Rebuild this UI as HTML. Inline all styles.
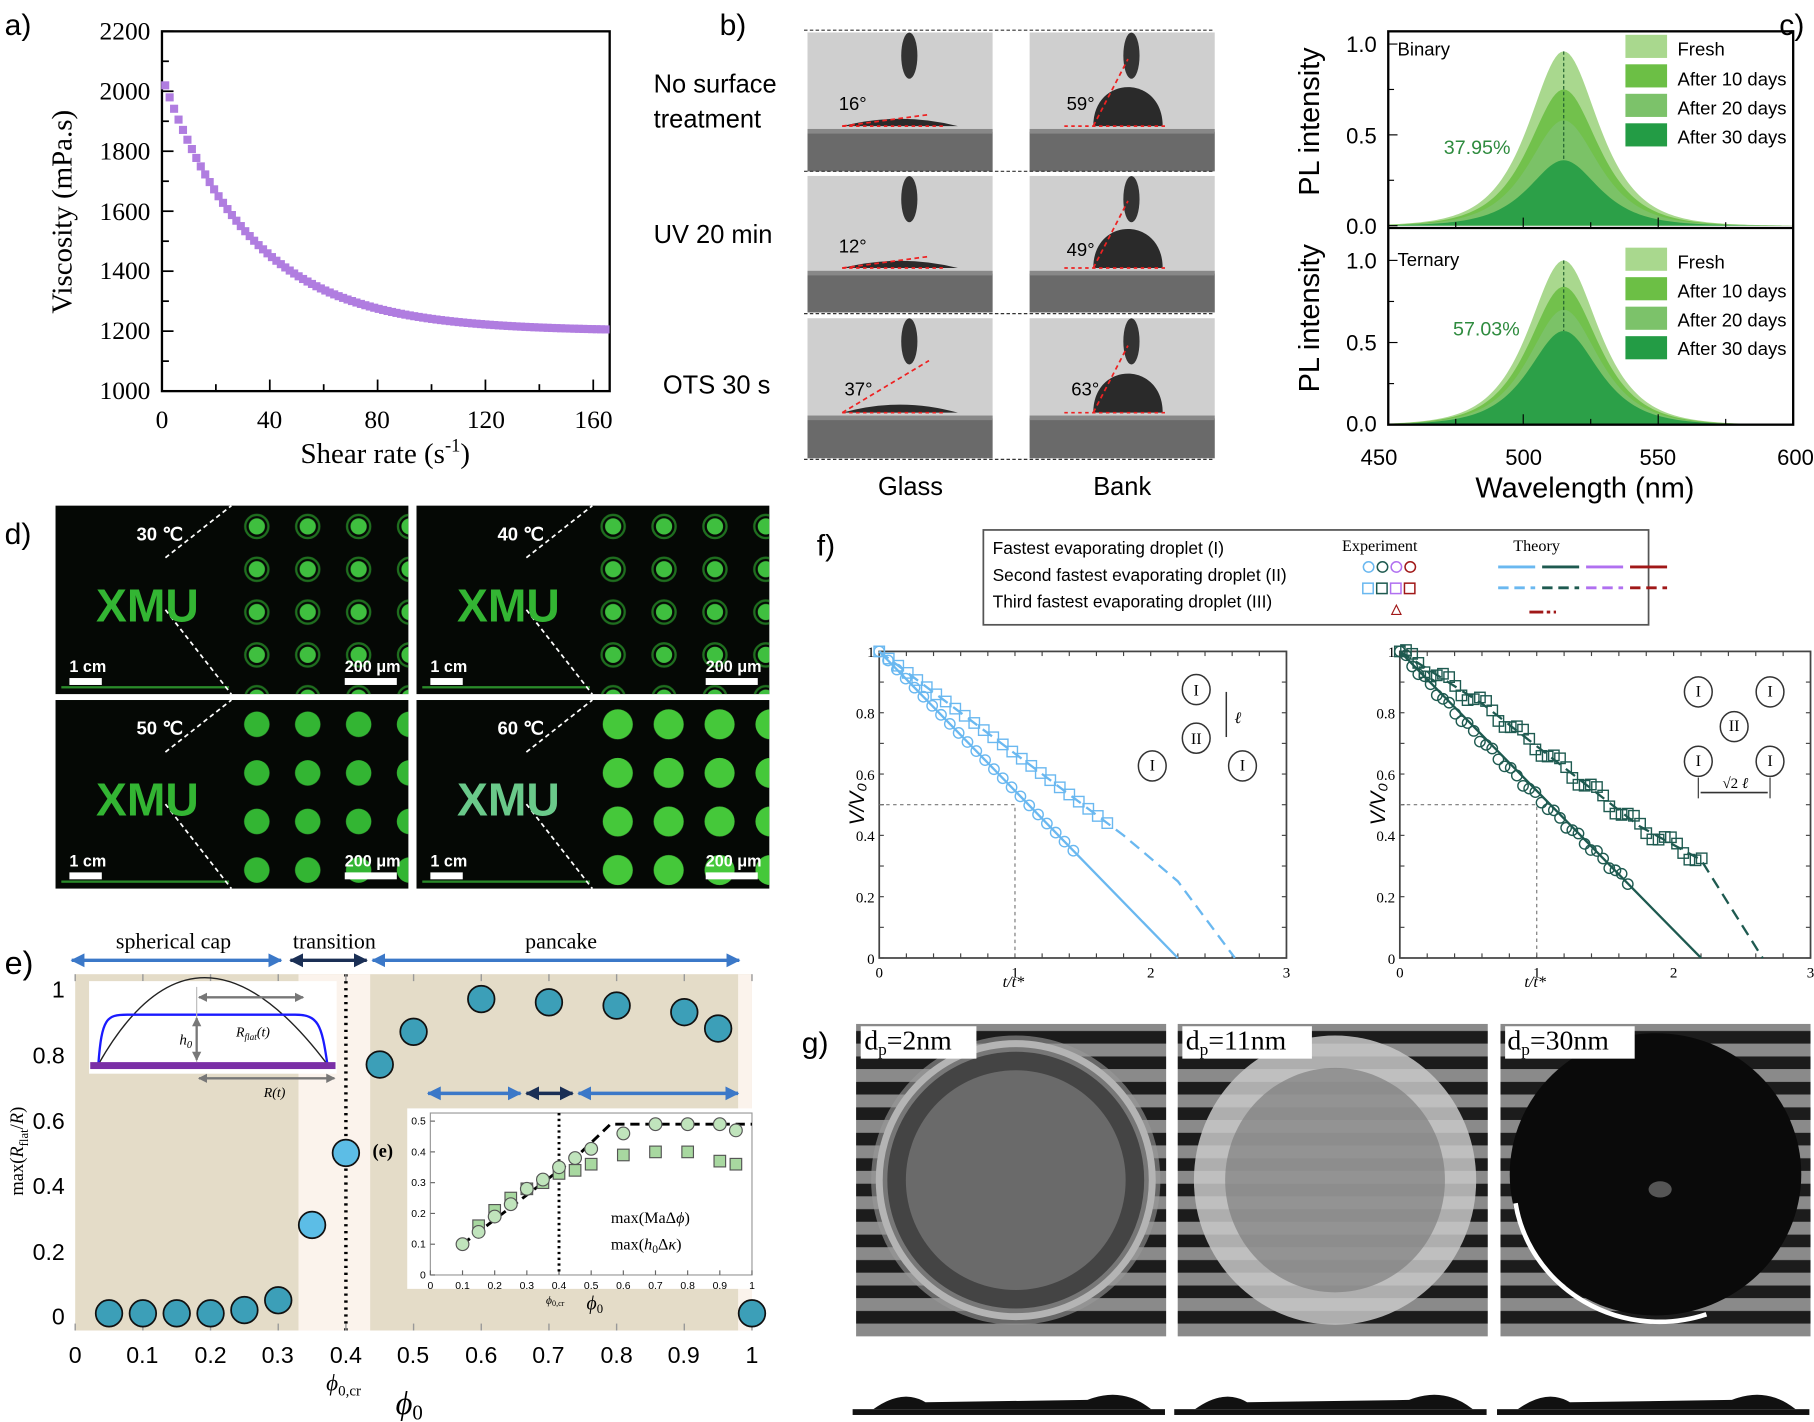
<!DOCTYPE html>
<html><head><meta charset="utf-8">
<style>
html,body{margin:0;padding:0;background:#fff;}
svg{display:block;}
.s{font-family:"Liberation Sans",sans-serif;}
.r{font-family:"Liberation Serif",serif;}
</style></head>
<body>
<svg id="S" width="1814" height="1422" viewBox="0 0 1568 1229" xmlns="http://www.w3.org/2000/svg">
<defs>
<pattern id="dotsA" x="200" y="437" width="44" height="37" patternUnits="userSpaceOnUse"><circle cx="22" cy="18" r="7" fill="#3fbf3f"/><circle cx="22" cy="18" r="10" fill="none" stroke="#1f6f1f" stroke-width="2"/></pattern>
<pattern id="dotsB" x="200" y="605" width="44" height="42" patternUnits="userSpaceOnUse"><circle cx="22" cy="21" r="11" fill="#33b533"/></pattern>
<pattern id="dotsC" x="512" y="605" width="44" height="42" patternUnits="userSpaceOnUse"><circle cx="22" cy="21" r="13" fill="#45c83a"/></pattern>
<pattern id="stripes" width="10" height="22" patternUnits="userSpaceOnUse"><rect width="10" height="11" fill="#8a8a8a"/><rect y="11" width="10" height="11" fill="#1c1c1c"/></pattern>
<marker id="ah" markerUnits="userSpaceOnUse" markerWidth="12" markerHeight="12" refX="11" refY="6" orient="auto-start-reverse"><path d="M0,0 L12,6 L0,12z" fill="#3b78c8"/></marker>
<marker id="ahd" markerUnits="userSpaceOnUse" markerWidth="12" markerHeight="12" refX="11" refY="6" orient="auto-start-reverse"><path d="M0,0 L12,6 L0,12z" fill="#1a2f55"/></marker>
<marker id="ak" markerUnits="userSpaceOnUse" markerWidth="8" markerHeight="8" refX="7" refY="4" orient="auto-start-reverse"><path d="M0,0 L8,4 L0,8z" fill="#777"/></marker>
</defs>

<!-- ===== a ===== -->
<text x="4" y="30" class="s" font-size="26">a)</text>
<rect x="140" y="27" width="387" height="311" fill="none" stroke="#000" stroke-width="2"/>
<g id="aTicks" stroke="#000" stroke-width="1.5"></g>
<g class="r" font-size="22" text-anchor="end">
<text x="130" y="345">1000</text><text x="130" y="293">1200</text><text x="130" y="241">1400</text><text x="130" y="190">1600</text><text x="130" y="138">1800</text><text x="130" y="86">2000</text><text x="130" y="34">2200</text>
</g>
<g class="r" font-size="22" text-anchor="middle">
<text x="140" y="370">0</text><text x="233" y="370">40</text><text x="326" y="370">80</text><text x="420" y="370">120</text><text x="513" y="370">160</text>
</g>
<text x="333" y="400" class="r" font-size="25" text-anchor="middle">Shear rate (s<tspan dy="-10" font-size="16">-1</tspan><tspan dy="10">)</tspan></text>
<text transform="translate(62,183) rotate(-90)" class="r" font-size="25" text-anchor="middle">Viscosity (mPa.s)</text>
<g id="aData" fill="#b07de0"></g>

<!-- ===== b ===== -->
<text x="622" y="30" class="s" font-size="26">b)</text>
<g class="s" font-size="22">
<text x="565" y="80">No surface</text><text x="565" y="110">treatment</text>
<text x="565" y="210">UV 20 min</text><text x="573" y="340">OTS  30 s</text>
<text x="787" y="428" text-anchor="middle">Glass</text><text x="970" y="428" text-anchor="middle">Bank</text>
</g>
<g id="bImgs"></g>

<!-- ===== c ===== -->
<text x="1538" y="30" class="s" font-size="26">c)</text>
<g id="cPlot"></g>
<g class="s" font-size="16">
<text x="1208" y="48">Binary</text><text x="1208" y="230">Ternary</text>
<text x="1248" y="133" fill="#2e8b3e" font-size="17">37.95%</text><text x="1256" y="290" fill="#2e8b3e" font-size="17">57.03%</text>
<text x="1450" y="48">Fresh</text><text x="1450" y="74">After 10 days</text><text x="1450" y="99">After 20 days</text><text x="1450" y="124">After 30 days</text>
<text x="1450" y="232">Fresh</text><text x="1450" y="257">After 10 days</text><text x="1450" y="282">After 20 days</text><text x="1450" y="307">After 30 days</text>
</g>
<g class="s" font-size="19" text-anchor="end">
<text x="1190" y="45">1.0</text><text x="1190" y="124">0.5</text><text x="1190" y="202">0.0</text>
<text x="1190" y="232">1.0</text><text x="1190" y="303">0.5</text><text x="1190" y="373">0.0</text>
</g>
<g class="s" font-size="19" text-anchor="middle">
<text x="1192" y="402">450</text><text x="1317" y="402">500</text><text x="1433" y="402">550</text><text x="1552" y="402">600</text>
</g>
<text x="1370" y="430" class="s" font-size="25" text-anchor="middle">Wavelength (nm)</text>
<text transform="translate(1140,105) rotate(-90)" class="s" font-size="25" text-anchor="middle">PL intensity</text>
<text transform="translate(1140,275) rotate(-90)" class="s" font-size="25" text-anchor="middle">PL intensity</text>

<!-- ===== d ===== -->
<text x="4" y="470" class="s" font-size="26">d)</text>
<g id="dImgs"></g>

<!-- ===== e ===== -->
<text x="4" y="842" class="s" font-size="28">e)</text>
<rect x="65" y="842" width="585" height="308" fill="#e4dcc8"/>
<rect x="258" y="842" width="62" height="308" fill="#fbf3ec"/>
<rect x="638" y="842" width="12" height="308" fill="#fbf3ec"/>
<line x1="299" y1="842" x2="299" y2="1150" stroke="#000" stroke-width="3" stroke-dasharray="2,4"/>
<g id="eTicks" stroke="#999" stroke-width="1.2"></g>
<g class="s" font-size="20" text-anchor="end">
<text x="56" y="862">1</text><text x="56" y="919">0.8</text><text x="56" y="976">0.6</text><text x="56" y="1032">0.4</text><text x="56" y="1089">0.2</text><text x="56" y="1145">0</text>
</g>
<g class="s" font-size="20" text-anchor="middle" id="eX">
<text x="65" y="1178">0</text><text x="123" y="1178">0.1</text><text x="182" y="1178">0.2</text><text x="240" y="1178">0.3</text><text x="299" y="1178">0.4</text><text x="357" y="1178">0.5</text><text x="416" y="1178">0.6</text><text x="474" y="1178">0.7</text><text x="533" y="1178">0.8</text><text x="591" y="1178">0.9</text><text x="650" y="1178">1</text>
</g>
<text x="297" y="1202" class="r" font-size="20" font-style="italic" text-anchor="middle">ϕ<tspan font-size="13" dy="4" font-style="normal">0,cr</tspan></text>
<text x="342" y="1222" class="r" font-size="28" font-style="italic">ϕ<tspan font-size="18" dy="5" font-style="normal">0</tspan></text>
<text transform="translate(20,995) rotate(-90)" class="r" font-size="16" text-anchor="middle">max(<tspan font-style="italic">R</tspan><tspan font-size="11" dy="4">flat</tspan><tspan dy="-4">/</tspan><tspan font-style="italic">R</tspan>)</text>
<g class="r" font-size="19" text-anchor="middle">
<text x="150" y="820">spherical cap</text><text x="289" y="820">transition</text><text x="485" y="820">pancake</text>
</g>
<line x1="62" y1="830" x2="243" y2="830" stroke="#3b78c8" stroke-width="3" marker-start="url(#ah)" marker-end="url(#ah)"/>
<line x1="251" y1="830" x2="317" y2="830" stroke="#1a2f55" stroke-width="3" marker-start="url(#ahd)" marker-end="url(#ahd)"/>
<line x1="322" y1="830" x2="639" y2="830" stroke="#3b78c8" stroke-width="3" marker-start="url(#ah)" marker-end="url(#ah)"/>
<!-- inset drawing -->
<rect x="77" y="848" width="214" height="80" fill="#fff"/>
<path d="M85,920 Q170,770 283,920" fill="none" stroke="#222" stroke-width="1.2"/>
<path d="M85,920 C88,880 92,877 110,877 L255,877 C275,877 278,885 283,920" fill="none" stroke="#1a1aff" stroke-width="2"/>
<rect x="78" y="918" width="212" height="6" fill="#7a2ea6"/>
<line x1="170" y1="853" x2="170" y2="918" stroke="#bbb"/>
<line x1="172" y1="862" x2="262" y2="862" stroke="#777" stroke-width="2" marker-start="url(#ak)" marker-end="url(#ak)"/>
<line x1="170" y1="880" x2="170" y2="916" stroke="#777" stroke-width="2" marker-start="url(#ak)" marker-end="url(#ak)"/>
<line x1="172" y1="932" x2="289" y2="932" stroke="#777" stroke-width="2" marker-start="url(#ak)" marker-end="url(#ak)"/>
<text x="166" y="903" class="r" font-size="13" font-style="italic" text-anchor="end">h<tspan font-size="9" dy="3">0</tspan></text>
<text x="204" y="896" class="r" font-size="12" font-style="italic">R<tspan font-size="8" dy="3">flat</tspan><tspan dy="-3">(t)</tspan></text>
<text x="228" y="948" class="r" font-size="12" font-style="italic">R(t)</text>
<!-- inset plot -->
<rect x="352" y="958" width="300" height="156" fill="#fff"/>
<rect x="372" y="962" width="278" height="140" fill="none" stroke="#999" stroke-width="1"/>
<line x1="370" y1="945" x2="450" y2="945" stroke="#3b78c8" stroke-width="3" marker-start="url(#ah)" marker-end="url(#ah)"/>
<line x1="455" y1="945" x2="495" y2="945" stroke="#1a2f55" stroke-width="3" marker-start="url(#ahd)" marker-end="url(#ahd)"/>
<line x1="500" y1="945" x2="638" y2="945" stroke="#3b78c8" stroke-width="3" marker-start="url(#ah)" marker-end="url(#ah)"/>
<text x="322" y="1000" class="r" font-size="16" font-weight="bold">(e)</text>
<g id="inset"></g>
<g class="r" font-size="14">
<text x="528" y="1057">max(MaΔ<tspan font-style="italic">ϕ</tspan>)</text>
<text x="528" y="1080">max(<tspan font-style="italic">h</tspan><tspan font-size="10" dy="3">0</tspan><tspan dy="-3">Δ</tspan><tspan font-style="italic">κ</tspan>)</text>
</g>
<text x="472" y="1127" class="r" font-size="10" font-style="italic">ϕ<tspan font-size="7" dy="2" font-style="normal">0,cr</tspan></text>
<text x="507" y="1132" class="r" font-size="17" font-style="italic">ϕ<tspan font-size="11" dy="3" font-style="normal">0</tspan></text>
<g id="eDots"></g>

<!-- ===== f ===== -->
<text x="706" y="480" class="s" font-size="26">f)</text>
<rect x="850" y="458" width="575" height="82" fill="#fff" stroke="#555" stroke-width="1.5"/>
<g class="s" font-size="15">
<text x="858" y="479">Fastest evaporating droplet (I)</text>
<text x="858" y="502">Second fastest evaporating droplet (II)</text>
<text x="858" y="525">Third fastest evaporating droplet (III)</text>
</g>
<g class="r" font-size="14"><text x="1160" y="476">Experiment</text><text x="1308" y="476">Theory</text></g>
<g id="fLeg"></g>
<g id="fPlots"></g>
<g class="r" font-size="14" font-style="italic" text-anchor="middle"><text x="876" y="853">t/t*</text><text x="1327" y="853">t/t*</text></g>
<text transform="translate(747,695) rotate(-90)" class="s" font-size="18" font-style="italic" text-anchor="middle">V/V₀</text>
<text transform="translate(1197,695) rotate(-90)" class="s" font-size="18" font-style="italic" text-anchor="middle">V/V₀</text>
<g class="r" font-size="14" text-anchor="middle">
<text x="1034" y="601">I</text><text x="1034" y="643">II</text><text x="996" y="666">I</text><text x="1074" y="666">I</text>
<text x="1468" y="602">I</text><text x="1530" y="602">I</text><text x="1499" y="632">II</text><text x="1468" y="662">I</text><text x="1530" y="662">I</text>
<text x="1070" y="625" font-style="italic">ℓ</text><text x="1500" y="681" font-size="13">√2 <tspan font-style="italic">ℓ</tspan></text>
</g>

<!-- ===== g ===== -->
<text x="693" y="910" class="s" font-size="26">g)</text>
<g id="gImgs"></g>
<g class="r" font-size="24">
<text x="747" y="907">d<tspan font-size="15" dy="5">p</tspan><tspan dy="-5">=2nm</tspan></text>
<text x="1025" y="907">d<tspan font-size="15" dy="5">p</tspan><tspan dy="-5">=11nm</tspan></text>
<text x="1303" y="907">d<tspan font-size="15" dy="5">p</tspan><tspan dy="-5">=30nm</tspan></text>
</g>
<g id="dText" class="s" font-weight="bold"></g>
</svg>
<script>
const NS="http://www.w3.org/2000/svg";
function el(p,t,a){const e=document.createElementNS(NS,t);for(const k in a)e.setAttribute(k,a[k]);p.appendChild(e);return e;}
const $=id=>document.getElementById(id);
// a
{const g=$('aTicks');for(let v=1000;v<=2200;v+=100){const y=338-(v-1000)*0.2592;el(g,'line',{x1:140,y1:y,x2:v%200?146:150,y2:y});}
for(let x=0;x<=166;x+=20){const px=140+x*2.33;el(g,'line',{x1:px,y1:338,x2:px,y2:x%40?332:328});}
const d=$('aData');for(let x=1.2;x<=166;x+=1.65){const v=1200+850*Math.exp(-x/33);const px=140+x*2.33,py=338-(v-1000)*0.2592;el(d,'rect',{x:px-3.5,y:py-3.5,width:7,height:7});}}
// b
{const g=$('bImgs');[[26,148],[150,270],[273,396]].forEach((r,i)=>{[[698,858],[890,1050]].forEach((c,j)=>{
const w=c[1]-c[0],h=r[1]-r[0];el(g,'rect',{x:c[0],y:r[0]+2,width:w,height:h-2,fill:'#cfcfcf'});
el(g,'rect',{x:c[0],y:r[0]+h*0.72,width:w,height:h*0.28,fill:'#6a6a6a'});
el(g,'rect',{x:c[0],y:r[0]+h*0.7,width:w,height:4,fill:'#888'});
el(g,'ellipse',{cx:c[0]+w*0.55,cy:r[0]+22,rx:7,ry:20,fill:'#333'});
const by=r[0]+h*0.68;
if(j==0){const fl=[[0.18,0.35],[0.1,0.35],[0.35,0.38]][i];el(g,'path',{d:`M${c[0]+30},${by} Q${c[0]+80},${by-h*fl[1]*0.3} ${c[0]+130},${by} Z`,fill:'#2a2a2a'});}
else{el(g,'path',{d:`M${c[0]+55},${by} C${c[0]+55},${by-45} ${c[0]+115},${by-45} ${c[0]+115},${by} Z`,fill:'#2a2a2a'});}
el(g,'line',{x1:c[0]+30,y1:by,x2:c[0]+120,y2:by,stroke:'#e22',"stroke-dasharray":'3,3','stroke-width':1.5});
el(g,'line',{x1:c[0]+(j?55:30),y1:by,x2:c[0]+(j?85:105),y2:by-(j?58:(i==2?45:10)),stroke:'#e22',"stroke-dasharray":'4,3','stroke-width':1.5});
});
});
[26,148,271,397].forEach(y=>el(g,'line',{x1:695,y1:y,x2:1050,y2:y,stroke:'#333','stroke-dasharray':'3,2'}));
const lab=[['16°',725,95],['59°',922,95],['12°',725,218],['49°',922,221],['37°',730,342],['63°',926,342]];
lab.forEach(l=>{const t=el(g,'text',{x:l[1],y:l[2],'font-size':16,'font-family':'Liberation Sans'});t.textContent=l[0];});}
// c
{const g=$('cPlot');const X=w=>1200+(w-450)*350/150;
const cols=['#a9d88e','#6cbf45','#7cc26a','#239c45'];
[[195,157,[0.96,0.75,0.58,0.36]],[367,142,[1.0,0.84,0.7,0.57]]].forEach(p=>{
p[2].forEach((A,i)=>{let d=`M${X(450)},${p[0]}`;for(let w=450;w<=600;w+=1){d+=` L${X(w)},${p[0]-p[1]*A/Math.cosh((w-515)/11.5)}`;}d+=` L${X(600)},${p[0]}Z`;el(g,'path',{d,fill:cols[i],opacity:i==0?1:0.9});});
el(g,'line',{x1:X(515),y1:p[0]-p[1]*p[2][0],x2:X(515),y2:p[0]-p[1]*p[2][3],stroke:'#1f5f2f','stroke-dasharray':'3,2'});
});
el(g,'rect',{x:1200,y:27,width:350,height:340,fill:'none',stroke:'#000','stroke-width':2});
el(g,'line',{x1:1200,y1:197,x2:1550,y2:197,stroke:'#000','stroke-width':2});
[[38,195],[225,367]].forEach(t=>{for(let k=0;k<=4;k++){const y=t[1]-(t[1]-t[0])*k/4;el(g,'line',{x1:1200,y1:y,x2:k%2?1205:1208,y2:y,stroke:'#000'});}});
[450,475,500,525,550,575,600].forEach(w=>{el(g,'line',{x1:X(w),y1:367,x2:X(w),y2:w%50?362:358,stroke:'#000'});el(g,'line',{x1:X(w),y1:197,x2:X(w),y2:w%50?192:188,stroke:'#000'});});
[[30,0],[214,0]].forEach(b=>{for(let i=0;i<4;i++){el(g,'rect',{x:1405,y:b[0]+i*25.5,width:36,height:20,fill:cols[i]});}});}
// d
{const g=$('dImgs');const P=[[48,437,'30 ℃','dotsA'],[360,437,'40 ℃','dotsA'],[48,605,'50 ℃','dotsB'],[360,605,'60 ℃','dotsC']];
P.forEach((p,i)=>{const [x,y]=p;el(g,'rect',{x,y,width:305,height:163,fill:'#050805'});
el(g,'rect',{x:x+152,y,width:153,height:163,fill:'url(#'+p[3]+')'});
el(g,'rect',{x:x+5,y:y+156,width:145,height:2,fill:'#2a8a2a'});
el(g,'rect',{x:x+12,y:y+149,width:28,height:6,fill:'#fff'});el(g,'rect',{x:x+250,y:y+149,width:45,height:6,fill:'#fff'});
el(g,'line',{x1:x+95,y1:y+45,x2:x+152,y2:y,stroke:'#fff','stroke-dasharray':'4,3','stroke-width':1.5});
el(g,'line',{x1:x+95,y1:y+90,x2:x+152,y2:y+163,stroke:'#fff','stroke-dasharray':'4,3','stroke-width':1.5});
const t=$('dText');const a=el(t,'text',{x:x+70,y:y+30,'font-size':16,fill:'#fff'});a.textContent=p[2];
const b=el(t,'text',{x:x+35,y:y+100,'font-size':40,fill:i==3?'#6ac98a':'#33b533'});b.textContent='XMU';
const c=el(t,'text',{x:x+12,y:y+144,'font-size':14,fill:'#fff'});c.textContent='1 cm';
const e=el(t,'text',{x:x+250,y:y+144,'font-size':14,fill:'#fff'});e.textContent='200 μm';});
el(g,'rect',{x:355,y:437,width:5,height:331,fill:'#fff'});el(g,'rect',{x:48,y:600,width:617,height:5,fill:'#fff'});}
// e
{const g=$('eTicks');for(let k=0;k<=10;k++){const x=65+k*58.5;el(g,'line',{x1:x,y1:1150,x2:x,y2:1144});el(g,'line',{x1:x,y1:842,x2:x,y2:848});}
const d=$('eDots');const pts=[[.05,.01],[.1,.01],[.15,.01],[.2,.01],[.25,.02],[.3,.05],[.35,.28,1],[.4,.5,1],[.45,.77],[.5,.87],[.6,.97],[.7,.96],[.8,.95],[.9,.93],[.95,.88],[1,.01]];
pts.forEach(p=>el(d,'circle',{cx:65+p[0]*585,cy:1138-p[1]*283,r:11.5,fill:p[2]?'#5cbde6':'#3c9fb8',stroke:'#111','stroke-width':1.5}));
const I=$('inset');const ix=v=>372+v*278,iy=v=>1102-v*266;
for(let k=0;k<=10;k++){el(I,'line',{x1:ix(k/10),y1:1102,x2:ix(k/10),y2:1098,stroke:'#666'});const t=el(I,'text',{x:ix(k/10),y:1114,'font-size':9,'text-anchor':'middle','font-family':'Liberation Sans'});t.textContent=k==10?'1':k==0?'0':(k/10).toFixed(1);}
for(let k=0;k<=5;k++){el(I,'line',{x1:372,y1:iy(k/10),x2:376,y2:iy(k/10),stroke:'#666'});const t=el(I,'text',{x:368,y:iy(k/10)+3,'font-size':9,'text-anchor':'end','font-family':'Liberation Sans'});t.textContent=k==0?'0':(k/10).toFixed(1);}
el(I,'line',{x1:ix(.4),y1:962,x2:ix(.4),y2:1102,stroke:'#000','stroke-width':2.5,'stroke-dasharray':'2,3'});
el(I,'polyline',{points:`${ix(.1)},${iy(.1)} ${ix(.45)},${iy(.38)} ${ix(.56)},${iy(.49)} ${ix(1)},${iy(.49)}`,fill:'none',stroke:'#000','stroke-width':2.5,'stroke-dasharray':'8,5'});
const sq=[[.15,.16],[.2,.21],[.25,.25],[.3,.28],[.35,.3],[.4,.33],[.45,.34],[.5,.36],[.6,.39],[.7,.4],[.8,.4],[.9,.37],[.95,.36]];
const ci=[[.1,.1],[.15,.14],[.2,.19],[.25,.23],[.3,.28],[.35,.31],[.4,.35],[.45,.38],[.5,.41],[.6,.46],[.7,.49],[.8,.49],[.9,.49],[.95,.47]];
sq.forEach(p=>el(I,'rect',{x:ix(p[0])-5,y:iy(p[1])-5,width:10,height:10,fill:'#a8d8a0',stroke:'#555'}));
ci.forEach(p=>el(I,'circle',{cx:ix(p[0]),cy:iy(p[1]),r:5.5,fill:'#c0e4bc',stroke:'#555'}));}
// f legend
{const g=$('fLeg');const c=['#6ab8f0','#1e5a50','#b070f0','#a01818'];
c.forEach((col,i)=>{el(g,'circle',{cx:1183+i*12,cy:490,r:4.5,fill:'none',stroke:col,'stroke-width':1.3});
el(g,'rect',{x:1178+i*12,y:504,width:9,height:9,fill:'none',stroke:col,'stroke-width':1.3});
el(g,'line',{x1:1295+i*38,y1:490,x2:1327+i*38,y2:490,stroke:col,'stroke-width':2.5});
el(g,'line',{x1:1295+i*38,y1:508,x2:1327+i*38,y2:508,stroke:col,'stroke-width':2.5,'stroke-dasharray':'9,5'});});
el(g,'path',{d:'M1203,531 L1207,523 L1211,531Z',fill:'none',stroke:'#a01818'});
el(g,'line',{x1:1322,y1:529,x2:1345,y2:529,stroke:'#a01818','stroke-width':2.5,'stroke-dasharray':'12,3,3,3'});}
// f plots
{const g=$('fPlots');
function plot(x0,x1,col,solidEnd,dash,circEnd,sqEnd,noisy){
const X=t=>x0+t*(x1-x0)/3,Y=v=>828-v*265;
el(g,'rect',{x:x0,y:563,width:x1-x0,height:265,fill:'none',stroke:'#444','stroke-width':1.5});
for(let k=0;k<=15;k++){const x=X(k/5);el(g,'line',{x1:x,y1:828,x2:x,y2:824,stroke:'#444'});el(g,'line',{x1:x,y1:563,x2:x,y2:567,stroke:'#444'});}
for(let k=0;k<=10;k++){const y=Y(k/10);el(g,'line',{x1:x0,y1:y,x2:x0+4,y2:y,stroke:'#444'});el(g,'line',{x1:x1,y1:y,x2:x1-4,y2:y,stroke:'#444'});
if(k%2==0){const t=el(g,'text',{x:x0-4,y:y+5,'font-size':13,'text-anchor':'end','font-family':'Liberation Serif'});t.textContent=k==0?'0':k==10?'1':(k/10).toFixed(1);}}
for(let k=0;k<=3;k++){const t=el(g,'text',{x:X(k),y:845,'font-size':13,'text-anchor':'middle','font-family':'Liberation Serif'});t.textContent=k;}
el(g,'polyline',{points:`${x0},${Y(.5)} ${X(1)},${Y(.5)} ${X(1)},828`,fill:'none',stroke:'#777','stroke-dasharray':'3,3'});
el(g,'line',{x1:X(0),y1:Y(1),x2:X(solidEnd),y2:Y(0),stroke:col,'stroke-width':2});
el(g,'polyline',{points:dash.map(p=>X(p[0])+','+Y(p[1])).join(' '),fill:'none',stroke:col,'stroke-width':2,'stroke-dasharray':'10,6'});
for(let t=0;t<=circEnd;t+=noisy?0.045:0.065){const v=1-t/solidEnd+(noisy?Math.sin(t*40)*0.01:0)-(noisy?0.02*Math.sin(t*2):0);el(g,'circle',{cx:X(t),cy:Y(v),r:4.5,fill:'none',stroke:col,'stroke-width':1.2});}
for(let t=0;t<=sqEnd;t+=noisy?0.045:0.07){let v;const d=dash;let k=0;while(k<d.length-2&&t>d[k+1][0])k++;const f=(t-d[k][0])/(d[k+1][0]-d[k][0]);v=d[k][1]+f*(d[k+1][1]-d[k][1]);if(noisy)v+=Math.sin(t*23)*0.02;el(g,'rect',{x:X(t)-4.5,y:Y(v)-4.5,width:9,height:9,fill:'none',stroke:col,'stroke-width':1.2});}}
plot(760,1112,'#6ab8f0',2.2,[[0,1],[1.8,.4],[2.2,.25],[2.62,0]],1.45,1.75,false);
plot(1210,1565,'#1e5a50',2.2,[[0,1],[.6,.83],[1.75,.43],[2.2,.32],[2.65,0]],1.68,2.22,true);
[[1034,596],[1034,638],[996,662],[1074,662],[1468,598],[1530,598],[1499,628],[1468,658],[1530,658]].forEach(p=>el(g,'ellipse',{cx:p[0],cy:p[1],rx:12,ry:13,fill:'none',stroke:'#333','stroke-width':1.3}));
el(g,'line',{x1:1060,y1:598,x2:1060,y2:637,stroke:'#333','stroke-width':1.3});
el(g,'line',{x1:1468,y1:672,x2:1468,y2:690,stroke:'#333'});el(g,'line',{x1:1530,y1:672,x2:1530,y2:690,stroke:'#333'});
el(g,'line',{x1:1470,y1:685,x2:1528,y2:685,stroke:'#333','stroke-width':1.5});}
// g
{const g=$('gImgs');[740,1018,1297].forEach((x,i)=>{el(g,'rect',{x,y:885,width:268,height:270,fill:'url(#stripes)'});
const cx=x+138,cy=1020;
if(i==0){el(g,'circle',{cx,cy,r:118,fill:'#444',stroke:'#ddd','stroke-width':6});el(g,'circle',{cx,cy,r:95,fill:'#6a6a6a'});el(g,'circle',{cx,cy,r:118,fill:'none',stroke:'#999','stroke-width':14,opacity:.6});}
if(i==1){el(g,'ellipse',{cx:cx-2,cy,rx:122,ry:125,fill:'#c8c8c8',opacity:.85});el(g,'ellipse',{cx:cx-2,cy,rx:95,ry:97,fill:'#777',opacity:.6});}
if(i==2){el(g,'ellipse',{cx:cx-4,cy:cy-5,rx:126,ry:122,fill:'#0a0a0a'});el(g,'path',{d:`M${cx-125},${cy+20} A126 122 0 0 0 ${cx+40},${cy+116}`,fill:'none',stroke:'#fff','stroke-width':4});el(g,'ellipse',{cx,cy:cy+8,rx:10,ry:7,fill:'#555'});}
el(g,'rect',{x:x+4,y:887,width:i?112:100,height:28,fill:'#fff'});
el(g,'rect',{x:x-3,y:1218,width:270,height:5,fill:'#111'});
el(g,'path',{d:`M${x+15},1218 Q${x+40},1200 ${x+60},1212 L${x+200},1210 Q${x+230},1198 ${x+255},1218Z`,fill:'#111'});});}
</script>
</body></html>
